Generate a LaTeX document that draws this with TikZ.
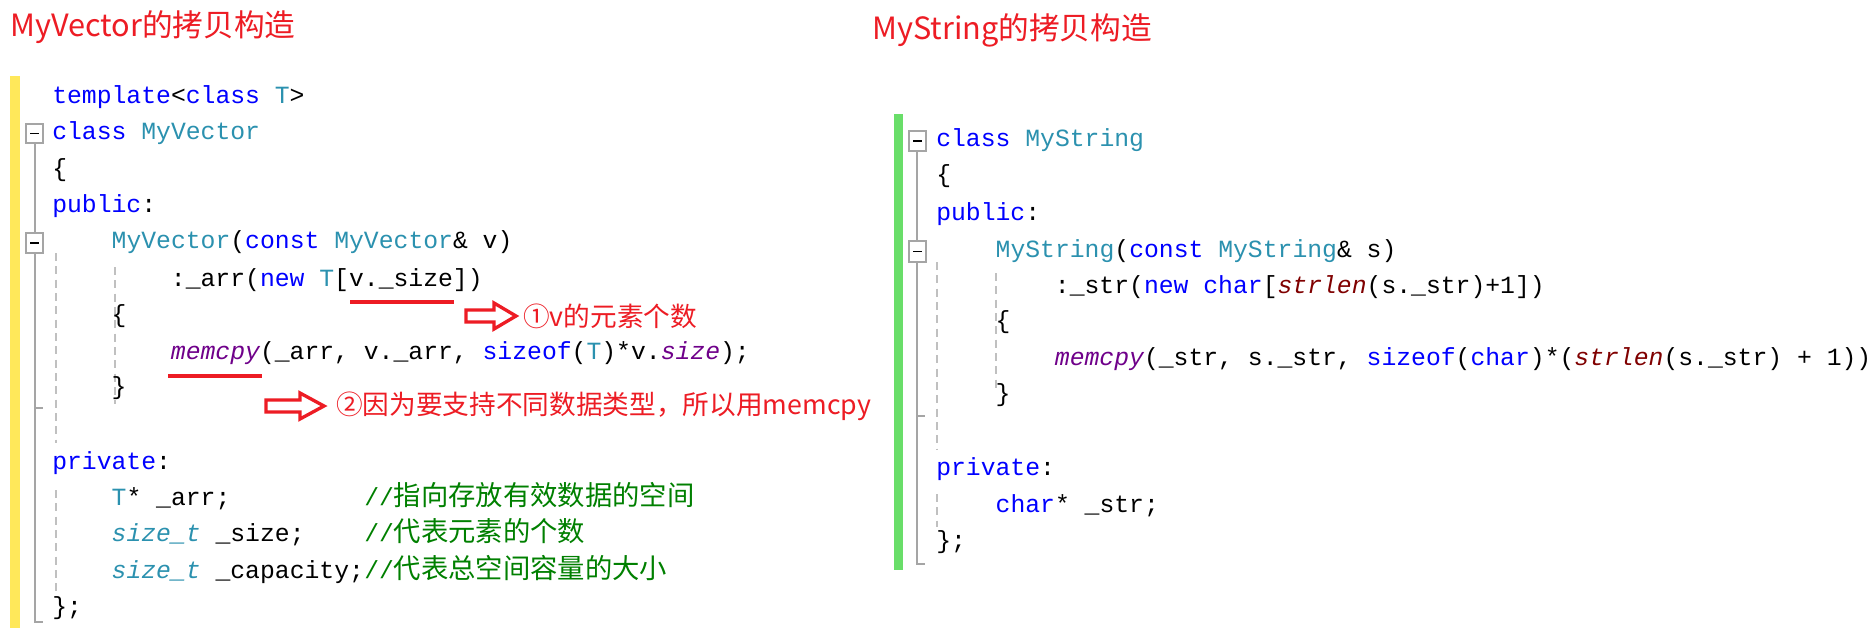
\documentclass[tikz,border=0pt]{standalone}
\usepackage{fontspec}
\setmonofont{Liberation Mono}
\newfontfamily\cjk{Noto Sans CJK SC}
\definecolor{kw}{RGB}{0,0,255}
\definecolor{ty}{RGB}{43,145,175}
\definecolor{cm}{RGB}{0,128,0}
\definecolor{fnc}{RGB}{111,0,138}
\definecolor{dr}{RGB}{128,0,0}
\definecolor{ann}{RGB}{237,28,36}
\definecolor{guide}{RGB}{165,165,165}
\definecolor{barYellowCol}{RGB}{255,232,90}
\definecolor{barGreenCol}{RGB}{105,222,105}
\newcommand\Kw[1]{\textcolor{kw}{#1}}
\newcommand\Ty[1]{\textcolor{ty}{#1}}
\newcommand\TyI[1]{\textcolor{ty}{\itshape #1}}
\newcommand\Fn[1]{\textcolor{fnc}{\itshape #1}}
\newcommand\Dr[1]{\textcolor{dr}{\itshape #1}}
\newcommand\Cm[1]{\textcolor{cm}{//{\cjk\fontsize{20.5}{22}\selectfont #1}}}
\begin{document}
\begin{tikzpicture}[x=0.75pt,y=-0.75pt,
  code/.style={anchor=west,inner sep=0pt,font=\ttfamily\fontsize{18.55}{20}\selectfont,text height=14pt,text depth=4pt},
  ttl/.style={anchor=west,inner sep=0pt,text=ann,font=\cjk\fontsize{20}{22}\selectfont},
  bigttl/.style={ttl,font=\cjk\fontsize{23}{25}\selectfont},
  fold/.style={draw=guide,fill=white,line width=1.2pt},
  solidg/.style={draw=guide,line width=1.2pt},
  dashg/.style={draw=guide!70,line width=1pt,dash pattern=on 6pt off 4pt},
  harrow/.style={draw=ann,fill=white,line width=2.5pt,line join=miter},
  uline/.style={draw=ann,line width=2.6pt}]
\useasboundingbox (0,0) rectangle (1871,632);
\fill[white] (0,0) rectangle (1871,632);
% titles
\node[bigttl] (t1) at (10,27) {MyVector的拷贝构造};
\node[bigttl] (t2) at (872,30) {MyString的拷贝构造};
% bars
\fill[fill=barYellowCol] (10,76) rectangle (20,628);
\fill[fill=barGreenCol] (894,114) rectangle (903,570);
% left guides
\draw[solidg] (35,143) -- (35,233);
\draw[solidg] (35,253) -- (35,622) -- (43,622);
\draw[solidg] (35,408) -- (43,408);
\draw[dashg] (56,253) -- (56,443);
\draw[dashg] (56,490) -- (56,592);
\draw[dashg] (115,267) -- (115,404);
\draw[fold] (26,124) rectangle (43,143); \draw[line width=1.3pt] (30,133.5) -- (39,133.5);
\draw[fold] (26,233) rectangle (43,253); \draw[line width=1.3pt] (30,243) -- (39,243);
% right guides
\draw[solidg] (917,151) -- (917,241);
\draw[solidg] (917,262) -- (917,564) -- (925,564);
\draw[solidg] (917,416) -- (925,416);
\draw[dashg] (937,262) -- (937,449);
\draw[dashg] (937,494) -- (937,527);
\draw[dashg] (996,273) -- (996,390);
\draw[fold] (909,131) rectangle (926,151); \draw[line width=1.3pt] (913,141) -- (922,141);
\draw[fold] (909,241) rectangle (926,262); \draw[line width=1.3pt] (913,251.5) -- (922,251.5);
% left code
\node[code] (l0) at (52,97) {\Kw{template}<\Kw{class} \Ty{T}>};
\node[code] (l1) at (52,133) {\Kw{class} \Ty{MyVector}};
\node[code] (l2) at (52,170) {\{};
\node[code] (l3) at (52,206) {\Kw{public}:};
\node[code] (l4) at (111.4,242) {\Ty{MyVector}(\Kw{const} \Ty{MyVector}\& v)};
\node[code] (l5) at (170.7,280) {:\_arr(\Kw{new} \Ty{T}[v.\_size])};
\node[code] (l6) at (111.4,316) {\{};
\node[code] (l7) at (170.7,353) {\Fn{memcpy}(\_arr, v.\_arr, \Kw{sizeof}(\Ty{T})*v.\Fn{size});};
\node[code] (l8) at (111.4,388) {\}};
\node[code] (l9) at (52,463) {\Kw{private}:};
\node[code] (l10) at (111.4,499) {\Ty{T}* \_arr;};
\node[code] (l11) at (111.4,535) {\TyI{size\_t} \_size;};
\node[code] (l12) at (111.4,572) {\TyI{size\_t} \_capacity;};
\node[code] (l13) at (52,608) {\};};
\node[code] (c10) at (364,499) {\Cm{指向存放有效数据的空间}};
\node[code] (c11) at (364,535) {\Cm{代表元素的个数}};
\node[code] (c12) at (364,572) {\Cm{代表总空间容量的大小}};
% right code
\node[code] (r0) at (936,140) {\Kw{class} \Ty{MyString}};
\node[code] (r1) at (936,176) {\{};
\node[code] (r2) at (936,214) {\Kw{public}:};
\node[code] (r3) at (995.4,251) {\Ty{MyString}(\Kw{const} \Ty{MyString}\& s)};
\node[code] (r4) at (1054.7,287) {:\_str(\Kw{new} \Kw{char}[\Dr{strlen}(s.\_str)+1])};
\node[code] (r5) at (995.4,322) {\{};
\node[code] (r6) at (1054.7,359) {\Fn{memcpy}(\_str, s.\_str, \Kw{sizeof}(\Kw{char})*(\Dr{strlen}(s.\_str) + 1));};
\node[code] (r7) at (995.4,395) {\}};
\node[code] (r8) at (936,469) {\Kw{private}:};
\node[code] (r9) at (995.4,506) {\Kw{char}* \_str;};
\node[code] (r10) at (936,542) {\};};
% annotations
\draw[uline] (350,302) -- (454,302);
\draw[uline] (168,376) -- (262,376);
\draw[harrow] (466,310) -- (494,310) -- (494,303) -- (516,316) -- (494,329) -- (494,322) -- (466,322) -- cycle;
\node[ttl] (a1) at (523,316) {①v的元素个数};
\draw[harrow] (266,400) -- (300,400) -- (300,393) -- (324,406) -- (300,419) -- (300,412) -- (266,412) -- cycle;
\node[ttl] (a2) at (336,406) {②因为要支持不同数据类型，所以用memcpy};
\end{tikzpicture}
\end{document}
